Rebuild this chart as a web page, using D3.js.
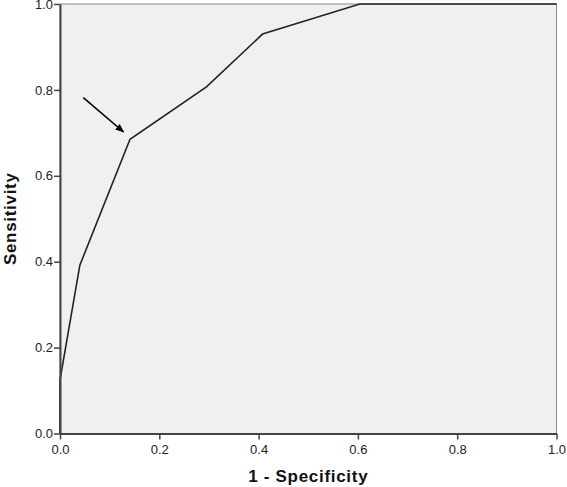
<!DOCTYPE html>
<html><head><meta charset="utf-8">
<script src="https://cdn.jsdelivr.net/npm/d3@7"></script>
<style>body{margin:0;background:#fff;} text{font-family:"Liberation Sans",Arial,sans-serif;}</style>
</head><body>
<svg id="c" width="567" height="487"></svg>
<script>
const fpr = [0, 0, 0.04, 0.141, 0.295, 0.408, 0.604, 1.0];
const tpr = [0, 0.125, 0.392, 0.685, 0.807, 0.930, 1.0, 1.0];
const xTicks = [0, 0.2, 0.4, 0.6, 0.8, 1.0];
const yTicks = [0, 0.2, 0.4, 0.6, 0.8, 1.0];
const arrowFrom = [0.047, 0.782];
const arrowTo = [0.128, 0.702];

const svg = d3.select("#c");
const L = 60, R = 556.5, T = 4, B = 433.5;
const x = d3.scaleLinear().domain([0,1]).range([L,R]);
const y = d3.scaleLinear().domain([0,1]).range([B,T]);

svg.append("rect").attr("x",L).attr("y",T).attr("width",R-L).attr("height",B-T)
  .attr("fill","#f0f0f0").attr("stroke","#888").attr("stroke-width",1);

const defs = svg.append("defs");
defs.append("marker").attr("id","ah").attr("viewBox","0 0 10 10").attr("refX",9).attr("refY",5)
  .attr("markerWidth",9).attr("markerHeight",9).attr("orient","auto").attr("markerUnits","userSpaceOnUse")
  .append("path").attr("d","M0,1 L10,5 L0,9 Z").attr("fill","#000");

const line = d3.line().x(d=>x(d[0])).y(d=>y(d[1]));
svg.append("path").datum(fpr.map((v,i)=>[v,tpr[i]])).attr("d",line)
  .attr("fill","none").attr("stroke","#222").attr("stroke-width",1.6).attr("stroke-linejoin","miter");

svg.append("line").attr("x1",x(arrowFrom[0])).attr("y1",y(arrowFrom[1]))
  .attr("x2",x(arrowTo[0])).attr("y2",y(arrowTo[1]))
  .attr("stroke","#000").attr("stroke-width",1.6).attr("marker-end","url(#ah)");

const xa = svg.append("g").attr("transform",`translate(0,${B})`)
  .call(d3.axisBottom(x).tickValues(xTicks).tickFormat(d3.format(".1f")).tickSize(6).tickSizeOuter(0));
const ya = svg.append("g").attr("transform",`translate(${L},0)`)
  .call(d3.axisLeft(y).tickValues(yTicks).tickFormat(d3.format(".1f")).tickSize(6).tickSizeOuter(0));
[xa,ya].forEach(g=>{
  g.select(".domain").attr("stroke","#444").attr("stroke-width",2);
  g.selectAll(".tick line").attr("stroke","#444").attr("stroke-width",1.5);
  g.selectAll(".tick text").attr("fill","#222").style("font-size","13px").style("font-family","Liberation Sans, Arial, sans-serif");
});
xa.selectAll(".tick text").attr("dy","0.9em");
ya.selectAll(".tick text").attr("x",-7);

svg.append("text").attr("x",(L+R)/2).attr("y",482).attr("text-anchor","middle")
  .style("font-size","17px").style("font-weight","bold").style("letter-spacing","0.7px").attr("fill","#111").text("1 - Specificity");
svg.append("text").attr("transform",`translate(16,${(T+B)/2}) rotate(-90)`).attr("text-anchor","middle")
  .style("font-size","17px").style("font-weight","bold").style("letter-spacing","0.7px").attr("fill","#111").text("Sensitivity");
</script>
</body></html>
